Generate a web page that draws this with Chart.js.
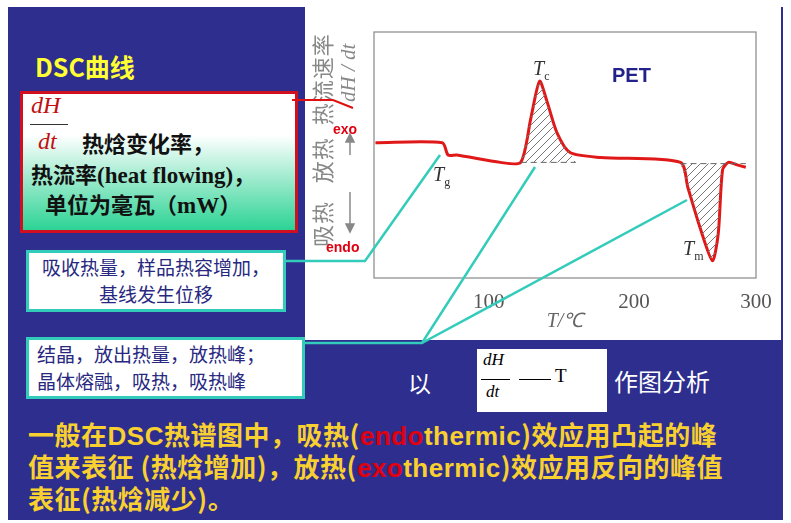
<!DOCTYPE html>
<html><head><meta charset="utf-8">
<script src="https://cdn.jsdelivr.net/npm/chart.js@4"></script>
<style>
body{margin:0;width:791px;height:523px;background:#fff;position:relative;overflow:hidden;font-family:"Noto Sans CJK SC",sans-serif}
.abs{position:absolute}
#slide{left:8px;top:7px;width:775px;height:513px;background:#2e2e8e}
#panel{left:305px;top:7px;width:476px;height:333px;background:#fff}
.rot{transform-origin:0 0;transform:rotate(-90deg);white-space:nowrap}
</style></head><body>
<div id="slide" class="abs"></div>
<div id="panel" class="abs"><canvas id="c" width="476" height="333"></canvas></div>
<div class="abs" style="left:35px;top:48px;color:#ffff33;font:bold 25px 'Noto Sans CJK SC'">DSC曲线</div>
<div class="abs" style="left:20px;top:91px;width:272px;height:136px;border:3px solid #d01020;background:linear-gradient(#ffffff 30%,#2cd394)"></div>
<div class="abs" style="left:31px;top:92px;color:#c01010;font:italic 24px 'Liberation Serif'">dH</div>
<div class="abs" style="left:30px;top:124px;width:38px;border-top:1.5px solid #333"></div>
<div class="abs" style="left:38px;top:128px;color:#c01010;font:italic 24px 'Liberation Serif'">dt</div>
<div class="abs" style="left:82px;top:126px;font:bold 22px 'Noto Sans CJK SC';color:#111">热焓变化率，</div>
<div class="abs" style="left:31px;top:157px;font:bold 22px 'Noto Sans CJK SC';color:#111;white-space:nowrap">热流率<span style="font-family:'Liberation Serif';font-size:23px">(heat flowing)</span>，</div>
<div class="abs" style="left:45px;top:187px;font:bold 22px 'Noto Sans CJK SC';color:#111;white-space:nowrap">单位为毫瓦（<span style="font-family:'Liberation Serif';font-size:23px">mW</span>）</div>
<div class="abs" style="left:26px;top:250px;width:254px;height:56px;border:3px solid #33ccbb;background:#fff;color:#282880;font:19px 'Noto Sans CJK SC';text-align:center;line-height:27px;white-space:nowrap">吸收热量，样品热容增加，<br>基线发生位移</div>
<div class="abs" style="left:26px;top:337px;border:3px solid #33ccbb;background:#fff;color:#282880;font:19px 'Noto Sans CJK SC';line-height:27px;padding-left:8px;box-sizing:border-box;width:279px;height:62px;white-space:nowrap">结晶，放出热量，放热峰；<br>晶体熔融，吸热，吸热峰</div>
<div class="abs" style="left:408px;top:365px;color:#fff;font:23px 'Noto Sans CJK SC'">以</div>
<div class="abs" style="left:477px;top:349px;width:130px;height:63px;background:#fff"></div>
<div class="abs" style="left:483px;top:350px;font:italic 17px 'Liberation Serif'">dH</div>
<div class="abs" style="left:481px;top:379px;width:29px;border-top:1px solid #000"></div>
<div class="abs" style="left:486px;top:382px;font:italic 17px 'Liberation Serif'">dt</div>
<div class="abs" style="left:519px;top:379px;width:32px;border-top:1px solid #000"></div>
<div class="abs" style="left:555px;top:365px;font:19px 'Liberation Serif'">T</div>
<div class="abs" style="left:614px;top:363px;color:#fff;font:24px 'Noto Sans CJK SC'">作图分析</div>
<div class="abs" style="left:28px;top:419px;width:760px;color:#f8d030;font:bold 26px 'Noto Sans CJK SC';line-height:29px;white-space:nowrap;letter-spacing:0.5px">一般在<span style="font-family:'Liberation Sans'">DSC</span>热谱图中，吸热(<span style="color:#e00010;font-family:'Liberation Sans'">endo</span><span style="font-family:'Liberation Sans'">thermic</span>)效应用凸起的峰<br>值来表征 (热焓增加)，放热(<span style="color:#e00010;font-family:'Liberation Sans'">exo</span><span style="font-family:'Liberation Sans'">thermic</span>)效应用反向的峰值<br>表征(热焓减少)。</div>
<div class="abs rot" style="left:305px;top:247px;color:#888;font:22px 'Noto Sans CJK SC';letter-spacing:1px">吸热&nbsp;&nbsp;&nbsp;放热&nbsp;&nbsp;热流速率</div>
<div class="abs rot" style="left:336px;top:102px;color:#888;font:italic 21px 'Liberation Serif'">dH / dt</div>
<svg class="abs" style="left:0;top:0" width="791" height="523">
 <g stroke="#888" stroke-width="1.5" fill="#888">
  <line x1="350" y1="155" x2="350" y2="140"/><polygon points="346,142 354,142 350,134"/>
  <line x1="350" y1="192" x2="350" y2="226"/><polygon points="346,224 354,224 350,232"/>
 </g>
 <polyline points="292,100 333,100 353,108" fill="none" stroke="#e01010" stroke-width="2"/>
 <polyline points="286,261 365,261 440,155" fill="none" stroke="#33ccbb" stroke-width="2.5"/>
 <polyline points="305,343 422,343 535,167" fill="none" stroke="#33ccbb" stroke-width="2.5"/>
 <polyline points="422,343 687,200" fill="none" stroke="#33ccbb" stroke-width="2.5"/>
</svg>
<div class="abs" style="left:333px;top:121px;color:#e00010;font:bold 14px 'Liberation Sans'">exo</div>
<div class="abs" style="left:326px;top:239px;color:#e00010;font:bold 14px 'Liberation Sans'">endo</div>
<div class="abs" style="left:612px;top:64px;color:#22228a;font:bold 20px 'Liberation Sans'">PET</div>
<div class="abs" style="left:533px;top:57px;color:#333;font:italic 20px 'Liberation Serif'">T<sub style="font-size:12px;font-style:normal">c</sub></div>
<div class="abs" style="left:433px;top:163px;color:#333;font:italic 20px 'Liberation Serif'">T<sub style="font-size:12px;font-style:normal">g</sub></div>
<div class="abs" style="left:683px;top:237px;color:#333;font:italic 20px 'Liberation Serif'">T<sub style="font-size:12px;font-style:normal">m</sub></div>
<script>
const temps=[22,68,72,78,108,122,129,135,140,147,156,177,232,237,246,254,258,261,265,271,277];
const flow=[55,55,50,50,47,47,65,80,72,59,51,49,47,37,19.5,7,18,44,47,46,45];
const tcT=[122,129,135,140,147,156,160];
const tcY=[47,65,80,72,59,51,47];
const tmT=[232,237,246,254,258,261,265,277];
const tmY=[46.5,37,19.5,7,18,44,46.5,46.5];
const xTicks=[100,200,284];
const xTickLabels=['100','200','300'];
const pc=document.createElement('canvas');pc.width=8;pc.height=8;
const px=pc.getContext('2d');px.strokeStyle='#777';px.lineWidth=1;px.beginPath();px.moveTo(0,8);px.lineTo(8,0);px.stroke();
const pat=px.createPattern(pc,'repeat');
const toXY=(a,b)=>a.map((t,i)=>({x:t,y:b[i]}));
new Chart(document.getElementById('c'),{type:'scatter',
data:{datasets:[
 {data:toXY(tcT,tcY),showLine:true,fill:{value:47},backgroundColor:pat,borderWidth:0,pointRadius:0,tension:0.3},
 {data:toXY(tmT,tmY),showLine:true,fill:{value:46.5},backgroundColor:pat,borderWidth:0,pointRadius:0,tension:0.3},
 {data:toXY([122,160],[47,47]),showLine:true,borderColor:'#666',borderDash:[6,4],borderWidth:1,pointRadius:0},
 {data:toXY([232,277],[46.5,46.5]),showLine:true,borderColor:'#666',borderDash:[6,4],borderWidth:1,pointRadius:0},
 {data:toXY(temps,flow),showLine:true,borderColor:'#e01818',borderWidth:3,pointRadius:0,tension:0.25}
]},
options:{responsive:false,animation:false,
 layout:{padding:{left:69,right:25,top:25,bottom:0}},
 plugins:{legend:{display:false},tooltip:{enabled:false}},
 scales:{
  x:{type:'linear',min:21,max:284,grid:{display:false},border:{display:false},
     afterBuildTicks:a=>{a.ticks=xTicks.map(v=>({value:v}));},
     afterFit:a=>{a.height=62;},
     ticks:{callback:(v)=>xTickLabels[xTicks.indexOf(v)],font:{family:'Liberation Serif',size:21},color:'#555',padding:4},
     title:{display:true,text:'T/℃',font:{family:'Liberation Serif',size:20,style:'italic'},color:'#666',padding:{top:0,bottom:6}}},
  y:{display:false,min:0,max:100}
 }},
plugins:[{id:'box',beforeDatasetsDraw(ch){const a=ch.chartArea,c=ch.ctx;c.save();c.strokeStyle='#888';c.lineWidth=1.2;c.strokeRect(a.left,a.top,a.width,a.height);c.restore();}}]
});
</script></body></html>
